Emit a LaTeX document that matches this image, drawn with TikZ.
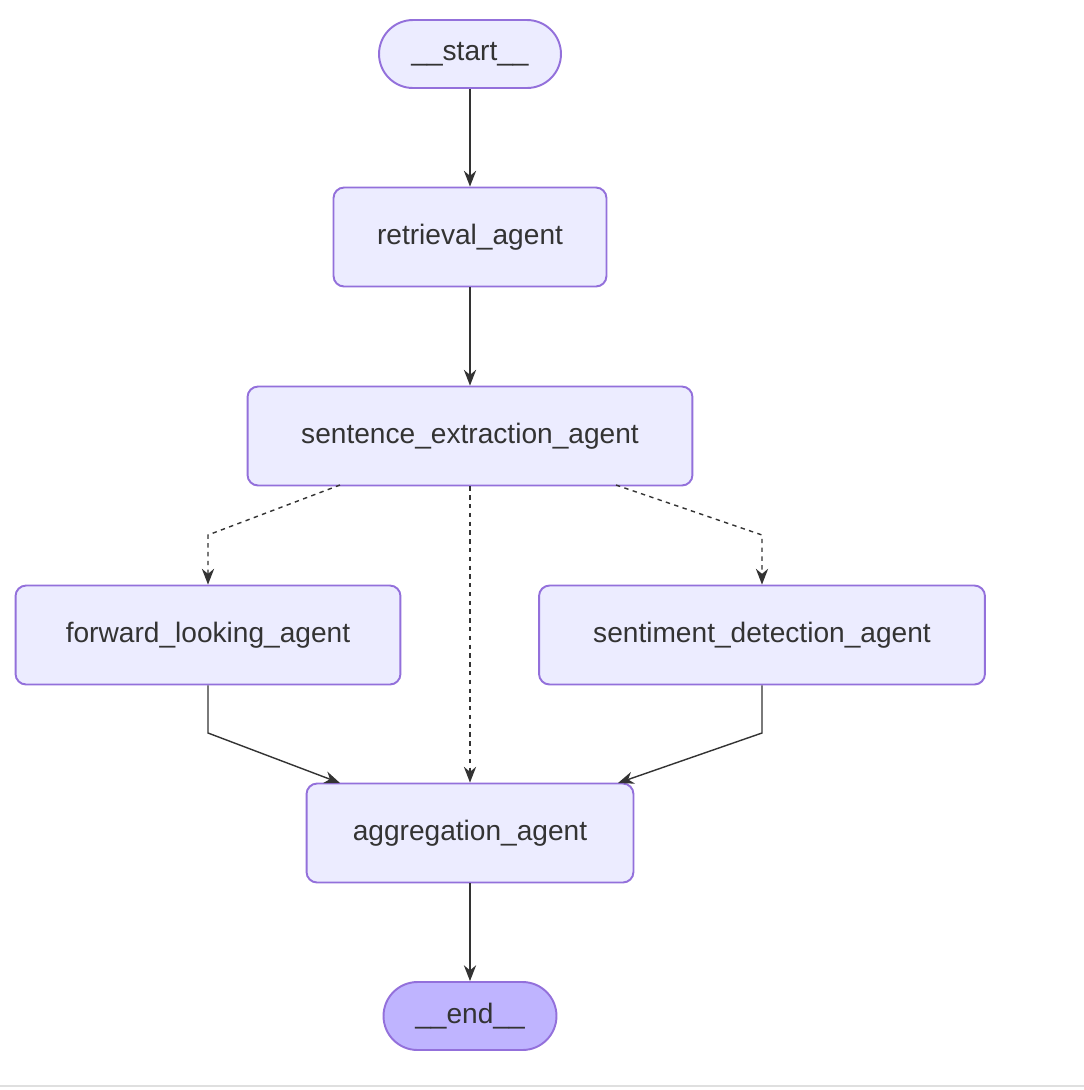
\documentclass[tikz,border=0pt]{standalone}
\usepackage{fontspec}
\setmainfont{Liberation Sans}
\usetikzlibrary{calc}
\usetikzlibrary{arrows.meta}
\definecolor{nodefill}{HTML}{ECECFF}
\definecolor{nodeline}{HTML}{9370DB}
\definecolor{endfill}{HTML}{BFB4FF}
\definecolor{edgecol}{HTML}{333333}
\tikzset{
  agent/.style={draw=nodeline,fill=nodefill,line width=1.1pt,rounded corners=6pt,
    minimum height=1.98cm,text=edgecol,font=\fontsize{16}{18}\selectfont,inner sep=0pt},
  pill/.style={agent,rounded corners=0.68cm,minimum height=1.36cm},
  flow/.style={draw=edgecol,line width=0.8pt,-{Stealth[length=9pt,width=7pt]}},
  cond/.style={flow,dash pattern=on 2.5pt off 2.5pt}
}
\begin{document}
\begin{tikzpicture}[x=0.02cm,y=-0.02cm]
        \useasboundingbox[fill=white] (0,0) rectangle (1084,1090);
        \draw[gray!25,line width=1pt] (0,1086) -- (1084,1086);
        %nodes
        \node[pill,minimum width=3.64cm] (start) at (470,54) {\_\_start\_\_};
        \node[agent,minimum width=5.46cm] (retrieval) at (470,237) {retrieval\_agent};
        \node[agent,minimum width=8.9cm] (sentence) at (470,436) {sentence\_extraction\_agent};
        \node[agent,minimum width=7.7cm] (forward) at (208,635) {forward\_looking\_agent};
        \node[agent,minimum width=8.92cm] (sentiment) at (762,635) {sentiment\_detection\_agent};
        \node[agent,minimum width=6.54cm] (aggregation) at (470,833) {aggregation\_agent};
        \node[pill,fill=endfill,minimum width=3.46cm] (end) at (470,1016) {\_\_end\_\_};
        %helper points
        \coordinate (sl) at (340,485);
        \coordinate (sr) at (616,485);
        \coordinate (al) at (340,783);
        \coordinate (ar) at (618,783);
        %edges
        \draw[flow] (start) -- (retrieval);
        \draw[flow] (retrieval) -- (sentence);
        \draw[cond] (sl) -- (208,535) -- (forward.north);
        \draw[cond] (sr) -- (762,535) -- (sentiment.north);
        \draw[cond] (sentence) -- (aggregation);
        \draw[flow] (forward.south) -- (208,733) -- (al);
        \draw[flow] (sentiment.south) -- (762,733) -- (ar);
        \draw[flow] (aggregation) -- (end);
\end{tikzpicture}
\end{document}
